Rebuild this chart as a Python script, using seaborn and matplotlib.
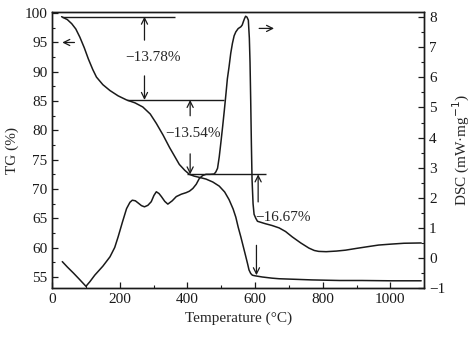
import seaborn as sns
import matplotlib.pyplot as plt
from matplotlib.ticker import MultipleLocator

# TG curve (left axis)
tg_temp = [28, 45, 58, 70, 82, 95, 107, 120, 131, 150, 171, 195, 220, 245, 268, 290,
           308, 328, 347, 362, 376, 392, 406, 420, 435, 455, 475, 494, 510, 523, 535,
           543, 550, 558, 565, 572, 578, 582, 587, 592, 600, 621, 650, 671, 720, 768,
           850, 915, 1000, 1091]
tg_val = [99.4, 98.9, 98.2, 97.3, 95.9, 94.1, 92.2, 90.4, 89.1, 87.8, 86.8, 85.9, 85.2,
          84.7, 84.0, 82.8, 81.2, 79.2, 77.1, 75.6, 74.2, 73.2, 72.5, 72.2, 72.0, 71.7,
          71.2, 70.5, 69.5, 68.2, 66.6, 65.2, 63.5, 61.8, 60.2, 58.6, 57.2, 56.2, 55.6,
          55.3, 55.2, 55.0, 54.8, 54.7, 54.6, 54.5, 54.4, 54.4, 54.35, 54.35]

# DSC curve (right axis)
dsc_temp = [30, 45, 63, 80, 100, 112, 126, 150, 171, 185, 195, 208, 220, 230, 237, 246,
            254, 264, 273, 283, 293, 301, 308, 316, 323, 333, 342, 355, 367, 382, 396,
            406, 416, 426, 435, 445, 455, 467, 479, 484, 489, 494, 499, 504, 509, 514,
            518, 523, 528, 533, 538, 543, 550, 558, 562, 565, 569, 572, 576, 580, 583,
            585, 587, 589, 591, 594, 597, 602, 607, 630, 650, 671, 690, 710, 735, 759,
            775, 788, 810, 840, 867, 900, 935, 965, 1000, 1040, 1091]
dsc_val = [-0.12, -0.30, -0.50, -0.70, -0.94, -0.78, -0.57, -0.27, 0.04, 0.35, 0.70,
           1.20, 1.64, 1.85, 1.92, 1.90, 1.83, 1.74, 1.70, 1.75, 1.87, 2.08, 2.20, 2.14,
           2.04, 1.88, 1.79, 1.90, 2.04, 2.12, 2.17, 2.22, 2.31, 2.45, 2.64, 2.74, 2.78,
           2.78, 2.79, 2.86, 2.98, 3.36, 3.85, 4.36, 4.90, 5.47, 5.95, 6.35, 6.80, 7.13,
           7.38, 7.51, 7.62, 7.68, 7.74, 7.84, 7.96, 8.03, 8.00, 7.90, 7.30, 6.50, 5.24,
           3.80, 2.60, 1.80, 1.45, 1.32, 1.22, 1.14, 1.08, 1.00, 0.88, 0.70, 0.50, 0.33,
           0.25, 0.22, 0.21, 0.23, 0.26, 0.32, 0.38, 0.43, 0.46, 0.49, 0.50]

# mass-loss steps: level lines, arrows and labels
step_levels = [99.4, 85.2, 72.5]
step_starts = [28, 220, 400]
step_ends = [362, 509, 632]
up_x = [273, 408, 609]
up_from = [95.4, 82.5, 67.8]
down_x = [273, 408, 604]
down_from = [89.3, 76.0, 60.4]
down_to = [85.2, 72.5, 55.3]
loss_labels = ['\u221213.78%', '\u221213.54%', '\u221216.67%']
label_x = [298, 416, 600]
label_y = [92.4, 79.5, 65.2]
label_ha = ['center', 'center', 'left']

# axis pointers: (tail x, head x, y)
left_ptr = (66, 30, 95.0)
right_ptr = (612, 656, 97.4)

sns.set_style('ticks')
plt.rcParams['font.family'] = ['Liberation Serif', 'DejaVu Serif']
plt.rcParams['font.size'] = 11
plt.rcParams['xtick.direction'] = 'in'
plt.rcParams['ytick.direction'] = 'in'

fig = plt.figure(figsize=(4.74, 3.43), dpi=100)
ax1 = fig.add_axes([0.110, 0.160, 0.785, 0.805])
ax2 = ax1.twinx()

sns.lineplot(x=tg_temp, y=tg_val, ax=ax1, color='#1a1a1a', lw=1.1, estimator=None)
sns.lineplot(x=dsc_temp, y=dsc_val, ax=ax2, color='#1a1a1a', lw=1.1, estimator=None)

ax1.hlines(step_levels, step_starts, step_ends, color='#1a1a1a', lw=1.0)
arrow = dict(arrowstyle='->', lw=0.9, color='#1a1a1a', shrinkA=0, shrinkB=0,
             mutation_scale=11)
for i in range(3):
    ax1.annotate('', xy=(up_x[i], step_levels[i]), xytext=(up_x[i], up_from[i]),
                 arrowprops=arrow)
    ax1.annotate('', xy=(down_x[i], down_to[i]), xytext=(down_x[i], down_from[i]),
                 arrowprops=arrow)
    ax1.text(label_x[i], label_y[i], loss_labels[i], ha=label_ha[i], va='center',
             fontsize=11)

for tail, head, yy in (left_ptr, right_ptr):
    ax1.annotate('', xy=(head, yy), xytext=(tail, yy), arrowprops=arrow)

ax1.set_xlim(0, 1100)
ax1.set_ylim(53.1, 100.2)
ax2.set_ylim(-1, 8.17)

ax1.xaxis.set_major_locator(MultipleLocator(200))
ax1.xaxis.set_minor_locator(MultipleLocator(100))
ax1.yaxis.set_major_locator(MultipleLocator(5))
ax1.yaxis.set_minor_locator(MultipleLocator(2.5))
ax2.yaxis.set_major_locator(MultipleLocator(1))
ax2.yaxis.set_minor_locator(MultipleLocator(0.5))

for ax in (ax1, ax2):
    ax.tick_params(which='major', length=4, width=0.9, colors='#1a1a1a', labelsize=11)
    ax.tick_params(which='minor', length=2, width=0.8, colors='#1a1a1a')
    for s in ax.spines.values():
        s.set_color('#1a1a1a')
        s.set_linewidth(1.0)
ax2.set_yticks(range(-1, 9))
ax2.set_yticklabels(['\u22121'] + [str(v) for v in range(0, 9)])

ax1.set_xlabel('Temperature (\u00b0C)', fontsize=11)
ax1.set_ylabel('TG (%)', fontsize=11)
ax2.set_ylabel('DSC (mW\u00b7mg$^{-1}$)', fontsize=11)

fig.savefig('out.png', dpi=100)
